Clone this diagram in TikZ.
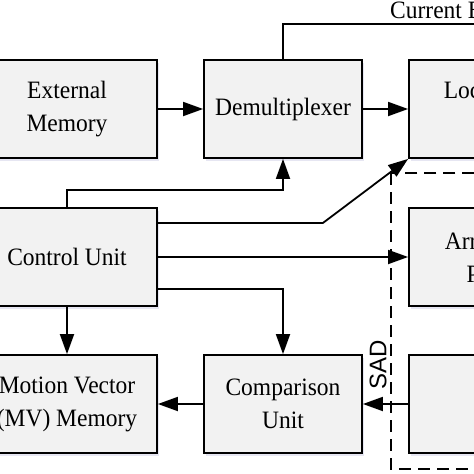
\documentclass[tikz,border=0pt]{standalone}
\usepackage{fontspec}
\setmainfont{Liberation Serif}[FakeStretch=0.94]
\newfontfamily\sadfont{Liberation Sans}
\usetikzlibrary{arrows.meta, positioning, shadows}
\tikzstyle{line} = [draw, -{Triangle[length=20pt,width=14pt]}, line width=1.8pt]
\tikzstyle{wire} = [draw, line width=1.8pt]

\begin{document}
\begin{tikzpicture}[x=1pt, y=-1pt,
    block/.style={rectangle, draw=black, line width=1.8pt, fill=gray!10, align=center, minimum height=98pt,
      font=\fontsize{25}{33}\selectfont,
      drop shadow={shadow xshift=1.5pt, shadow yshift=-3pt, fill=blue!30!gray, opacity=0.15}},
    group/.style={draw, line width=1.8pt, dash pattern=on 12pt off 7pt},
    lbl/.style={font=\fontsize{25}{33}\selectfont, inner sep=0pt}]

    \useasboundingbox (0,0) rectangle (474,474);
    \clip (0,0) rectangle (474,474);

    % top row
    \node[block, minimum width=180pt] (ext) at (67,109) {External\\Memory};
    \node[block, minimum width=158pt] (dmx) at (283,109) {Demultiplexer};
    \node[block, minimum width=210pt] (loc) at (514,109) {Local Memory\\(LM)};

    % middle row
    \node[block, minimum width=152pt] (pe) at (485,257) {Array of\\PEs};
    \node[block, minimum width=180pt] (cu) at (67,257) {Control Unit};

    % bottom row
    \node[block, minimum width=180pt] (mvm) at (67,404) {Motion Vector\\(MV) Memory};
    \node[block, minimum width=158pt] (cmp) at (283,404) {Comparison\\Unit};
    \node[block, minimum width=200pt] (add) at (509,404) {Adder\\Tree};

    % datapath group
    \draw[group] ([xshift=-17pt,yshift=34pt]pe.north west) rectangle ([xshift=40pt,yshift=-15pt]add.south east);

    \draw[line] (ext.east) -- (dmx.west);
    \draw[line] (dmx.east) -- (loc.west);
    \draw[wire] (dmx.north) -- ++(0,-35) coordinate (tl) -- ++(260,0) coordinate (cbend);
    \node[lbl, anchor=base west] (cb) at (390,18) {Current Block};

    \draw[line] (cu.north) -- ++(0,-17) -| (dmx.south);
    \draw[line] ([yshift=34pt]cu.east) -- ++(165,0) -- (loc.south west);
    \draw[line] (cu.east) -- (pe.west);
    \draw[line] ([yshift=-32pt]cu.east) -| (cmp.north);
    \draw[line] (cu.south) -- (mvm.north);

    \draw[line] (cmp.west) -- (mvm.east);
    \draw[line] (add.west) -- (cmp.east);
    \node[lbl, font=\sadfont\fontsize{24}{28}\selectfont, rotate=90] (sad) at (378,365) {SAD};

\end{tikzpicture}
\end{document}
